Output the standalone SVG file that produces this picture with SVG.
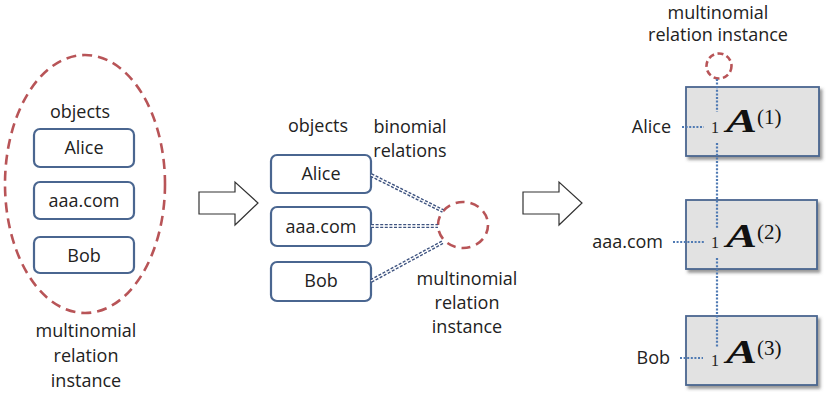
<svg xmlns="http://www.w3.org/2000/svg" width="831" height="398" viewBox="0 0 831 398">
<defs>
<style>
.t{font-family:"Open Sans","Liberation Sans",sans-serif;font-size:18px;fill:#222;}
.c{text-anchor:middle;}
.r{text-anchor:end;}
.box{fill:#fff;stroke:#4a6690;stroke-width:2.2;}
.mbox{fill:#e2e2e2;stroke:#4a6690;stroke-width:1.8;}
.red{fill:none;stroke:#b85457;stroke-width:2.6;}
.arrow{fill:#fff;stroke:#333;stroke-width:1.2;}
.dbl{fill:none;stroke:#3f5480;stroke-width:4;stroke-dasharray:3 1.6;}
.dblw{fill:none;stroke:#fff;stroke-width:1.3;}
.dot{fill:none;stroke:#4f7ab3;stroke-width:2.2;stroke-dasharray:2 1.6;}
.one{font-family:"Liberation Serif","DejaVu Serif",serif;font-size:16px;fill:#222;}
.A{font-family:"Liberation Serif","DejaVu Serif",serif;font-size:33px;font-weight:bold;font-style:italic;fill:#111;}
.sup{font-family:"Liberation Serif","DejaVu Serif",serif;font-size:21px;fill:#111;}
</style>
<filter id="sh" x="-10%" y="-10%" width="130%" height="140%">
<feDropShadow dx="2.5" dy="3" stdDeviation="1.5" flood-color="#555" flood-opacity="0.6"/>
</filter>
</defs>

<g id="left-instance">
<ellipse class="red" cx="85" cy="184" rx="80" ry="129" stroke-dasharray="10 6"/>
<text class="t c" x="80" y="118">objects</text>
<text class="t c" x="86" y="337">multinomial</text>
<text class="t c" x="86" y="362">relation</text>
<text class="t c" x="86" y="387">instance</text>
</g>
<g id="left-alice"><rect class="box" x="34" y="129" width="100" height="38" rx="6"/><text class="t c" x="84" y="154">Alice</text></g>
<g id="left-aaa"><rect class="box" x="34" y="182" width="100" height="37" rx="6"/><text class="t c" x="84" y="207">aaa.com</text></g>
<g id="left-bob"><rect class="box" x="34" y="237" width="100" height="36" rx="6"/><text class="t c" x="84" y="262">Bob</text></g>

<g id="arrow1"><path class="arrow" d="M199,192 H235 V182 L258,203 L235,225 V214 H199 Z"/></g>
<g id="arrow2"><path class="arrow" d="M523,192 H559 V182 L582,203 L559,225 V214 H523 Z"/></g>

<g id="mid-labels">
<text class="t c" x="318" y="132">objects</text>
<text class="t c" x="410" y="133">binomial</text>
<text class="t c" x="410" y="157">relations</text>
</g>
<g id="mid-alice"><rect class="box" x="271" y="155" width="100" height="38" rx="6"/><text class="t c" x="321" y="180">Alice</text></g>
<g id="mid-aaa"><rect class="box" x="271" y="207" width="100" height="39" rx="6"/><text class="t c" x="321" y="233">aaa.com</text></g>
<g id="mid-bob"><rect class="box" x="271" y="262" width="100" height="39" rx="6"/><text class="t c" x="321" y="287">Bob</text></g>
<g id="mid-instance">
<ellipse class="red" cx="463" cy="225" rx="25" ry="23" stroke-dasharray="9 6"/>
<text class="t c" x="467" y="285">multinomial</text>
<text class="t c" x="467" y="309">relation</text>
<text class="t c" x="467" y="333">instance</text>
</g>

<g id="right-instance">
<text class="t c" x="718" y="19">multinomial</text>
<text class="t c" x="718" y="41">relation instance</text>
<circle class="red" cx="719" cy="66" r="12.5" stroke-dasharray="6 3.5"/>
</g>
<g id="A1">
<rect class="mbox" x="686" y="87" width="133" height="69" filter="url(#sh)"/>
<text class="one" x="711" y="133">1</text>
<text class="A" x="726" y="132" textLength="31" lengthAdjust="spacingAndGlyphs">A</text>
<text class="sup" x="757" y="124">(1)</text>
</g>
<g id="A2">
<rect class="mbox" x="686" y="200" width="131" height="69" filter="url(#sh)"/>
<text class="one" x="711" y="248">1</text>
<text class="A" x="726" y="247" textLength="31" lengthAdjust="spacingAndGlyphs">A</text>
<text class="sup" x="757" y="239">(2)</text>
</g>
<g id="A3">
<rect class="mbox" x="686" y="316" width="131" height="69" filter="url(#sh)"/>
<text class="one" x="711" y="366">1</text>
<text class="A" x="726" y="363" textLength="31" lengthAdjust="spacingAndGlyphs">A</text>
<text class="sup" x="757" y="355">(3)</text>
</g>
<g id="right-labels">
<text class="t r" x="671" y="133">Alice</text>
<text class="t r" x="663" y="248">aaa.com</text>
<text class="t r" x="670" y="364">Bob</text>
</g>

<g id="connectors">
<path class="dbl" d="M371,175 L443,211 M371,226 L438,226 M371,281 L443,242"/>
<path class="dblw" d="M371,175 L443,211 M371,226 L438,226 M371,281 L443,242"/>
<path class="dot" d="M717,79 V112 M717,143 V228 M717,258 V348"/>
<path class="dot" d="M682,127 H704 M673,242 H704 M680,358 H703"/>
</g>
</svg>
